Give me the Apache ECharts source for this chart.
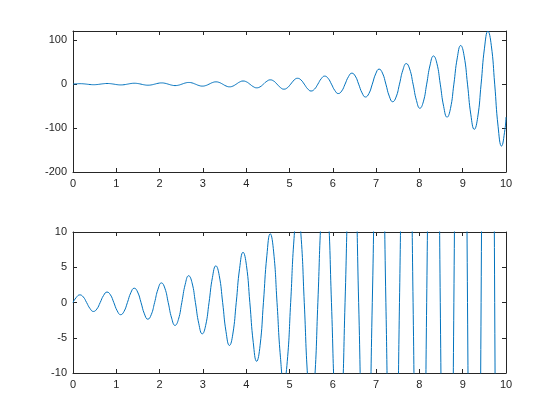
<!DOCTYPE html>
<html><head><meta charset="utf-8">
<script src="https://cdn.jsdelivr.net/npm/echarts@6/dist/echarts.min.js"></script>
<style>html,body{margin:0;padding:0;background:#fff}#c{width:560px;height:420px}</style>
</head><body><div id="c"></div>
<script>
// x positions (eighth periods) and values
const xs = [
0,0.079,0.157,0.236,0.314,0.393,0.471,0.550,0.628,0.707,
0.785,0.864,0.942,1.021,1.100,1.178,1.257,1.335,1.414,1.492,
1.571,1.649,1.728,1.806,1.885,1.963,2.042,2.121,2.199,2.278,
2.356,2.435,2.513,2.592,2.670,2.749,2.827,2.906,2.985,3.063,
3.142,3.220,3.299,3.377,3.456,3.534,3.613,3.691,3.770,3.848,
3.927,4.006,4.084,4.163,4.241,4.320,4.398,4.477,4.555,4.634,
4.712,4.791,4.869,4.948,5.027,5.105,5.184,5.262,5.341,5.419,
5.498,5.576,5.655,5.733,5.812,5.890,5.969,6.048,6.126,6.205,
6.283,6.362,6.440,6.519,6.597,6.676,6.754,6.833,6.912,6.990,
7.069,7.147,7.226,7.304,7.383,7.461,7.540,7.618,7.697,7.775,
7.854,7.933,8.011,8.090,8.168,8.247,8.325,8.404,8.482,8.561,
8.639,8.718,8.796,8.875,8.954,9.032,9.111,9.189,9.268,9.346,
9.425,9.503,9.582,9.660,9.739,9.817,9.896,9.975,10];
const ys = [
0,0.74,1.08,0.80,0,-0.86,-1.27,-0.93,0,1.01,
1.48,1.09,0,-1.18,-1.73,-1.27,0,1.38,2.03,1.49,
0,-1.61,-2.37,-1.74,0,1.89,2.78,2.04,0,-2.21,
-3.25,-2.39,0,2.58,3.80,2.80,0,-3.02,-4.45,-3.27,
0,3.54,5.20,3.83,0,-4.14,-6.09,-4.48,0,4.84,
7.12,5.24,0,-5.67,-8.34,-6.13,0,6.63,9.75,7.17,
0,-7.76,-11.41,-8.39,0,9.08,13.35,9.82,0,-10.63,
-15.62,-11.49,0,12.43,18.28,13.45,0,-14.55,-21.39,-15.74,
0,17.02,25.03,18.41,0,-19.92,-29.28,-21.55,0,23.31,
34.26,25.21,0,-27.27,-40.09,-29.50,0,31.91,46.91,34.52,
0,-37.34,-54.9,-40.39,0,43.69,64.2,47.26,0,-51.12,
-75.2,-55.30,0,59.82,88.0,64.71,0,-69.99,-102.9,-75.71,
0,81.90,120.4,88.59,0,-95.83,-140.9,-103.66,-75.1];
const xTicks = [0,1,2,3,4,5,6,7,8,9,10];
const topYTicks = [-200,-100,0,100];
const botYTicks = [-10,-5,0,5,10];

const pts = xs.map((x,i)=>[x,ys[i]]);
const axColor = '#262626';
const font = {fontFamily:'Liberation Sans, Arial, sans-serif', fontSize:11, color:axColor};
function xa(gi, pos, labels){
  return {type:'value', gridIndex:gi, position:pos, min:xTicks[0], max:xTicks[xTicks.length-1], interval:1,
    axisLine:{show:true, onZero:false, lineStyle:{color:axColor,width:1}},
    axisTick:{show:true, inside:true, length:4, lineStyle:{color:axColor}},
    axisLabel:Object.assign({show:labels, margin:6}, font),
    splitLine:{show:false}};
}
function ya(gi, pos, labels, min, max, iv){
  return {type:'value', gridIndex:gi, position:pos, min:min, max:max, interval:iv,
    axisLine:{show:true, onZero:false, lineStyle:{color:axColor,width:1}},
    axisTick:{show:true, inside:true, length:4, lineStyle:{color:axColor}},
    axisLabel:Object.assign({show:labels, margin:6, showMaxLabel: max%iv===0,
      formatter:v=>String(v)}, font),
    splitLine:{show:false}};
}
const chart = echarts.init(document.getElementById('c'));
chart.setOption({
  animation:false,
  grid:[{left:73,top:31,width:433,height:141},{left:73,top:232,width:433,height:141}],
  xAxis:[xa(0,'bottom',true), xa(0,'top',false), xa(1,'bottom',true), xa(1,'top',false)],
  yAxis:[ya(0,'left',true,topYTicks[0],121,100), ya(0,'right',false,topYTicks[0],121,100),
         ya(1,'left',true,botYTicks[0],botYTicks[botYTicks.length-1],5), ya(1,'right',false,botYTicks[0],botYTicks[botYTicks.length-1],5)],
  series:[
    {type:'line', xAxisIndex:0, yAxisIndex:0, data:pts, smooth:true, showSymbol:false, clip:true,
      lineStyle:{color:'#0072BD', width:1}},
    {type:'line', xAxisIndex:2, yAxisIndex:2, data:pts, smooth:true, showSymbol:false, clip:true,
      lineStyle:{color:'#0072BD', width:1}}
  ]
});
</script></body></html>
